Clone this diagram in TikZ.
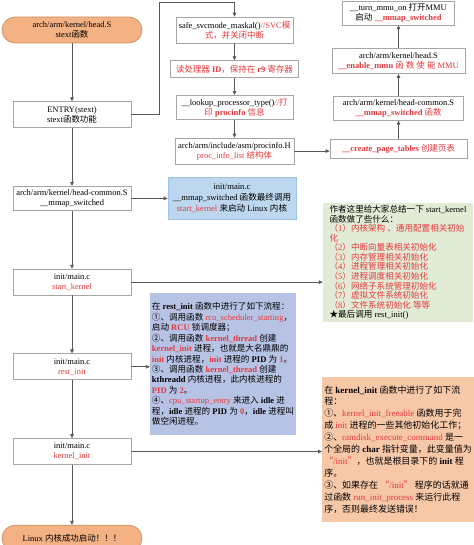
\documentclass[tikz,border=0pt]{standalone}
\usepackage{fontspec}
\setmainfont{Liberation Serif}
\newfontfamily\zhfont{Noto Sans CJK SC}
\usepackage{xcolor}
\usepackage{tikz}
\usetikzlibrary{arrows.meta,positioning}
\definecolor{kwred}{HTML}{E8383D}
\definecolor{linegray}{HTML}{595959}
\definecolor{boxgray}{HTML}{A6A6A6}
\definecolor{termfill}{HTML}{F4B183}
\definecolor{termdraw}{HTML}{C99268}
\definecolor{bluefill}{HTML}{BDD7EE}
\definecolor{bluedraw}{HTML}{9DC3E6}
\definecolor{greenfill}{HTML}{E2EBD5}
\definecolor{lavfill}{HTML}{B7C3E4}
\definecolor{peachfill}{HTML}{F7C8A8}
\newcommand\kw[1]{\textcolor{kwred}{#1}}
% switch to the CJK font for Chinese characters
\newXeTeXintercharclass\zhclass
\newcount\zhc
\def\zhrange#1#2{\zhc=#1 \loop\XeTeXcharclass\zhc=\zhclass \ifnum\zhc<#2 \advance\zhc by 1 \repeat}
\zhrange{"3000}{"303F}
\zhrange{"4E00}{"9FFF}
\zhrange{"FF00}{"FFEF}
\zhrange{"2460}{"24FF}
\XeTeXcharclass"2605=\zhclass
\XeTeXcharclass"201C=\zhclass
\XeTeXcharclass"201D=\zhclass
\XeTeXinterchartokenstate=1
\XeTeXinterchartoks 0 \zhclass = {\begingroup\zhfont}
\XeTeXinterchartoks 4095 \zhclass = {\begingroup\zhfont}
\XeTeXinterchartoks \zhclass 0 = {\endgroup}
\XeTeXinterchartoks \zhclass 4095 = {\endgroup}

\begin{document}
\begin{tikzpicture}[x=1bp, y=-1bp,
  fbox/.style={draw=boxgray, fill=white, line width=0.7bp, minimum width=118bp, minimum height=26bp, inner sep=1bp, align=center, font=\fontsize{8.5}{10}\selectfont},
  term/.style={draw=termdraw, fill=termfill, line width=0.7bp, rounded corners=13bp, minimum width=140bp, minimum height=26bp, align=center, font=\fontsize{8.5}{10}\selectfont},
  note/.style={minimum width=150bp, inner sep=2bp, align=left},
  arr/.style={-{Triangle[length=4bp,width=3.6bp]}, line width=0.7bp, color=linegray}
]
  \useasboundingbox (0,0) rectangle (474,545);

  \node[term] (stext) at (72,30) {arch/arm/kernel/head.S\\stext函数};
  \node[fbox, below=58bp of stext] (entry) {ENTRY(stext)\\stext函数功能};
  \node[fbox, below=58bp of entry, minimum height=24bp] (hcl) {arch/arm/kernel/head-common.S\\\_\_mmap\_switched};
  \node[fbox, below=58bp of hcl] (skern) {init/main.c\\\kw{start\_kernel}};
  \node[fbox, below=58bp of skern] (rinit) {init/main.c\\\kw{rest\_init}};
  \node[fbox, below=58bp of rinit] (kinit) {init/main.c\\\kw{kernel\_init}};
  \node[term, below=60bp of kinit] (done) {Linux 内核成功启动！！！};

  \node[fbox, minimum width=117bp] (safe) at (234.5,30) {safe\_svcmode\_maskal()\kw{//SVC模}\\\kw{式，并关闭中断}};
  \node[fbox, below=17bp of safe, minimum width=128bp, minimum height=17bp] (cpuid) {\kw{读处理器 \textbf{ID}，保持在 \textbf{r9} 寄存器}};
  \node[fbox, below=17bp of cpuid, minimum width=117bp, minimum height=24bp] (lookup) {\_\_lookup\_processor\_type()\kw{//打}\\\kw{印 \textbf{procinfo} 信息}};
  \node[fbox, below=18bp of lookup, minimum width=119bp] (pinfo) {arch/arm/include/asm/procinfo.H\\\kw{proc\_info\_list 结构体}};
  \node[draw=bluedraw, fill=bluefill, line width=0.7bp, minimum width=128bp, minimum height=42bp, inner sep=1bp, align=center, font=\fontsize{8.6}{11}\selectfont] (callsk) at (232,198) {init/main.c\\\_\_mmap\_switched 函数最终调用\\\kw{start\_kernel} 来启动 Linux 内核};

  \node[fbox, minimum width=137bp, minimum height=19bp] (cpt) at (398.5,148.5) {\kw{\textbf{\_\_create\_page\_tables} 创建页表}};
  \node[fbox, above=18bp of cpt, minimum width=130bp, minimum height=24bp] (hcr) {arch/arm/kernel/head-common.S\\\kw{\textbf{\_\_mmap\_switched} 函数}};
  \node[fbox, above=22bp of hcr, minimum width=133bp, minimum height=25bp] (headr) {arch/arm/kernel/head.S\\\kw{\textbf{\_\_enable\_mmu} 函 数 使 能 MMU}};
  \node[fbox, above=23bp of headr, minimum width=112bp, minimum height=24bp] (mmuon) {\_\_turn\_mmu\_on 打开MMU\\启动 \kw{\textbf{\_\_mmap\_switched}}};

  \node[note, fill=greenfill, minimum height=109bp, font=\fontsize{8.6}{9.6}\selectfont] (sksum) at (398,262.5) {作者这里给大家总结一下 start\_kernel\\
    函数做了些什么：\\
    \kw{（1）内核架构 、通用配置相关初始}\\
    \kw{化}\\
    \kw{（2）中断向量表相关初始化}\\
    \kw{（3）内存管理相关初始化}\\
    \kw{（4）进程管理相关初始化}\\
    \kw{（5）进程调度相关初始化}\\
    \kw{（6）网络子系统管理初始化}\\
    \kw{（7）虚拟文件系统初始化}\\
    \kw{（8）文件系统初始化 等等}\\
    ★最后调用 rest\_init()};
  \node[note, fill=lavfill, minimum width=146bp, minimum height=142bp, font=\fontsize{8.6}{10.5}\selectfont] (risum) at (223,364) {在 \textbf{rest\_init} 函数中进行了如下流程：\\
    ①、调用函数 \kw{rcu\_scheduler\_starting}，\\
    启动 \kw{\textbf{RCU}} 锁调度器；\\
    ②、调用函数 \kw{\textbf{kernel\_thread}} 创建\\
    \kw{\textbf{kernel\_init}} 进程，也就是大名鼎鼎的\\
    \kw{\textbf{init}} 内核进程，\kw{\textbf{init}} 进程的 \textbf{PID} 为 \kw{\textbf{1}}。\\
    ③、调用函数 \kw{\textbf{kernel\_thread}} 创建\\
    \textbf{kthreadd} 内核进程，此内核进程的\\
    \kw{\textbf{PID}} 为 \kw{\textbf{2}}。\\
    ④、\kw{cpu\_startup\_entry} 来进入 \textbf{idle} 进\\
    程，\textbf{idle} 进程的 \textbf{PID} 为 \kw{\textbf{0}}，\textbf{idle} 进程叫\\
    做空闲进程。};
  \node[note, fill=peachfill, minimum height=145bp, font=\fontsize{9}{12}\selectfont] (kisum) at (398,449.5) {在 \textbf{kernel\_init} 函数中进行了如下流\\
    程：\\
    ①、\kw{kernel\_init\_freeable} 函数用于完\\
    成 \kw{init} 进程的一些其他初始化工作；\\
    ②、\kw{ramdisk\_execute\_command} 是一\\
    个全局的 \textbf{char} 指针变量，此变量值为\\
    \kw{“/init”}，也就是根目录下的 \textbf{init} 程\\
    序。\\
    ③、如果存在 \kw{“/init”} 程序的话就通\\
    过函数 \kw{run\_init\_process} 来运行此程\\
    序，否则最终发送错误！};

  \coordinate (topl) at (159,2);
  \draw[arr] (stext) -- (entry);
  \draw[arr] (entry) -- (hcl);
  \draw[arr] (hcl) -- (skern);
  \draw[arr] (skern) -- (rinit);
  \draw[arr] (rinit) -- (kinit);
  \draw[arr] (kinit) -- (done);
  \draw[arr] (entry.east) -| (topl) -| (safe.north);
  \draw[arr] (safe) -- (cpuid);
  \draw[arr] (cpuid) -- (lookup);
  \draw[arr] (lookup) -- (pinfo);
  \draw[arr] (pinfo.east) -- (pinfo.east -| cpt.west);
  \draw[arr] (cpt) -- (hcr);
  \draw[arr] (hcr) -- (headr);
  \draw[arr] (headr) -- (mmuon);
  \draw[arr] (hcl.east) -- (hcl.east -| callsk.west);
  \draw[arr] (skern.east) -- (skern.east -| sksum.west);
  \draw[arr] (rinit.east) -- (rinit.east -| risum.west);
  \draw[arr] (kinit.east) -- (kinit.east -| kisum.west);
\end{tikzpicture}
\end{document}
